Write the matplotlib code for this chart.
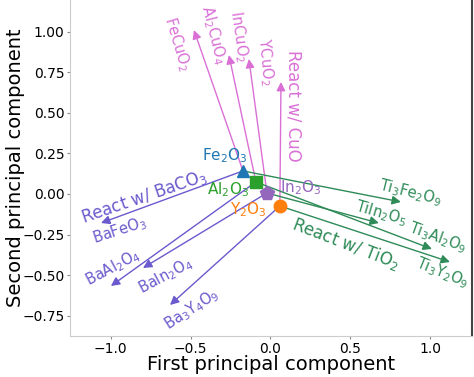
import matplotlib
matplotlib.use("Agg")
import matplotlib.pyplot as plt

# precursor oxides (PCA coordinates)
precursors = ["Fe$_2$O$_3$", "Al$_2$O$_3$", "In$_2$O$_3$", "Y$_2$O$_3$"]
pre_x = [-0.172, -0.091, -0.022, 0.059]
pre_y = [0.142, 0.074, 0.006, -0.074]

# products after reacting with each reagent (one per precursor, same order)
cuo_names = ["FeCuO$_2$", "Al$_2$CuO$_4$", "InCuO$_2$", "YCuO$_2$"]
cuo_x = [-0.479, -0.260, -0.135, 0.066]
cuo_y = [1.010, 0.856, 0.832, 0.690]

baco3_names = ["BaFeO$_3$", "BaAl$_2$O$_4$", "BaIn$_2$O$_4$", "Ba$_3$Y$_4$O$_9$"]
baco3_x = [-1.061, -0.999, -0.798, -0.629]
baco3_y = [-0.179, -0.567, -0.456, -0.684]

tio2_names = ["Ti$_3$Fe$_2$O$_9$", "Ti$_3$Al$_2$O$_9$", "TiIn$_2$O$_5$", "Ti$_3$Y$_2$O$_9$"]
tio2_x = [0.817, 1.011, 0.679, 1.124]
tio2_y = [-0.049, -0.339, -0.179, -0.419]

# label placement (layout only)
pre_lab = [(-0.285, 0.234), (-0.266, 0.025), (0.191, 0.037), (-0.141, -0.099)]
cuo_lab = [(-0.585, 0.924, -73), (-0.360, 0.980, -76), (-0.197, 0.973, -82), (-0.034, 0.813, -85)]
baco3_lab = [(-0.942, -0.228, 18), (-0.986, -0.456, 28), (-0.654, -0.505, 28), (-0.492, -0.709, 33)]
tio2_lab = [(0.874, 0.006, -14), (1.049, -0.271, -20), (0.692, -0.117, -16), (1.074, -0.487, -22)]

pre_colors = ["tab:blue", "tab:green", "tab:purple", "tab:orange"]
pre_markers = ["^", "s", "p", "o"]

fig = plt.figure(figsize=(4.74, 3.77), dpi=100)
ax = fig.add_axes([70 / 474, 41 / 377, 402 / 474, 336 / 377])

groups = [
    (cuo_names, cuo_x, cuo_y, cuo_lab, "orchid"),
    (baco3_names, baco3_x, baco3_y, baco3_lab, "slateblue"),
    (tio2_names, tio2_x, tio2_y, tio2_lab, "seagreen"),
]
for names, gx, gy, labs, col in groups:
    for i, name in enumerate(names):
        ax.annotate("", xy=(gx[i], gy[i]), xytext=(pre_x[i], pre_y[i]),
                    arrowprops=dict(arrowstyle="-|>", color=col, lw=1,
                                    shrinkA=0, shrinkB=0, mutation_scale=13),
                    zorder=2)
        lx, ly, rot = labs[i]
        ax.text(lx, ly, name, color=col, fontsize=10.5, rotation=rot,
                ha="center", va="center", rotation_mode="anchor")

ax.text(0.147, 0.542, "React w/ CuO", color="orchid", fontsize=12,
        rotation=-90, ha="center", va="center", rotation_mode="anchor")
ax.text(-0.792, -0.018, "React w/ BaCO$_3$", color="slateblue", fontsize=12,
        rotation=19, ha="center", va="center", rotation_mode="anchor")
ax.text(0.473, -0.308, "React w/ TiO$_2$", color="seagreen", fontsize=12,
        rotation=-21, ha="center", va="center", rotation_mode="anchor")

for i, name in enumerate(precursors):
    ax.plot(pre_x[i], pre_y[i], marker=pre_markers[i], color=pre_colors[i],
            ms=9 if pre_markers[i] != "p" else 10, ls="none", zorder=4)
    ax.text(pre_lab[i][0], pre_lab[i][1], name, color=pre_colors[i],
            fontsize=11, ha="center", va="center")

ax.set_xlim(-1.255, 1.262)
ax.set_ylim(-0.875, 1.195)
ax.set_xticks([-1.0, -0.5, 0.0, 0.5, 1.0])
ax.set_yticks([-0.75, -0.5, -0.25, 0.0, 0.25, 0.5, 0.75, 1.0])
ax.set_yticklabels(["\u22120.75", "\u22120.50", "\u22120.25", "0.00",
                    "0.25", "0.50", "0.75", "1.00"])
ax.tick_params(labelsize=10, length=2.5, pad=1.5, color="#888888")
ax.set_xlabel("First principal component", fontsize=14)
ax.set_ylabel("Second principal component", fontsize=14)
ax.xaxis.set_label_coords(0.5, -0.058)
ax.yaxis.set_label_coords(-0.113, 0.5)

for s in ["left", "bottom"]:
    ax.spines[s].set_color("#cccccc")
ax.spines["top"].set_visible(False)
ax.spines["right"].set_color("#444444")
ax.spines["right"].set_linewidth(1.5)

fig.savefig("out.png", dpi=100)
